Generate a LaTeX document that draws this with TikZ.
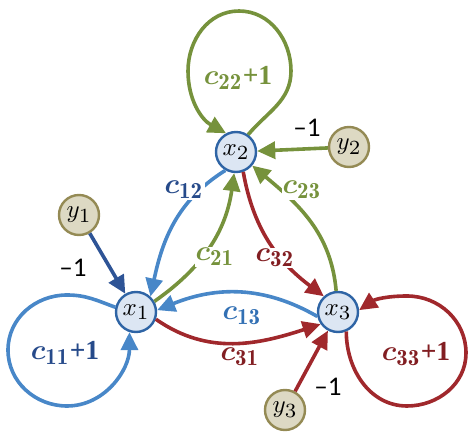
\documentclass[tikz,border=0pt]{standalone}
\usepackage{amsmath,bm}
\usepackage{fontspec}
\newfontfamily\calib{Carlito}
\newfontfamily\serifb{Liberation Serif}
\usetikzlibrary{arrows.meta}
\definecolor{lblue}{RGB}{72,135,200}
\definecolor{dblue}{RGB}{46,84,150}
\definecolor{tblue}{RGB}{38,74,138}
\definecolor{mblue}{RGB}{50,112,180}
\definecolor{lgreen}{RGB}{118,146,60}
\definecolor{lred}{RGB}{160,40,44}
\definecolor{tred}{RGB}{130,30,34}
\definecolor{xfill}{RGB}{220,230,243}
\definecolor{xborder}{RGB}{46,100,165}
\definecolor{yfill}{RGB}{221,217,195}
\definecolor{yborder}{RGB}{148,138,84}
\newcommand{\coefc}[1]{\scalebox{2.85}{$\bm{c}_{\scalebox{1.15}{$\scriptstyle\mathbf{#1}$}}$}}
\newcommand{\plusone}{\scalebox{2.75}{\serifb\bfseries +1}}
\newcommand{\varx}[2]{\scalebox{2.5}{$#1_{\scalebox{1.15}{$\scriptstyle #2$}}$}}
\tikzset{
  xnode/.style={circle, draw=xborder, fill=xfill, line width=2.4pt, minimum size=40pt, inner sep=0pt},
  ynode/.style={circle, draw=yborder, fill=yfill, line width=2.4pt, minimum size=40pt, inner sep=0pt},
  conn/.style={line width=3.6pt, -{Triangle[length=18pt,width=17pt]}},
  clab/.style={inner sep=1pt},
  gap/.style={fill=white},
  mone/.style={font=\calib\fontsize{27}{30}\selectfont, text=black},
}
\begin{document}
\begin{tikzpicture}[x=1pt,y=1pt]
\useasboundingbox (0,0) rectangle (474,439);
% nodes
\node[xnode] (x1) at (136,127) {\varx{x}{1}};
\node[xnode] (x2) at (236,287) {\varx{x}{2}};
\node[xnode] (x3) at (338,127) {\varx{x}{3}};
\node[ynode] (y1) at (79,224) {\varx{y}{1}};
\node[ynode] (y2) at (349,292) {\varx{y}{2}};
\node[ynode] (y3) at (285,29) {\varx{y}{3}};
% loop coordinates
\coordinate (c11t) at (67,144);
\coordinate (c11l) at (8,89);
\coordinate (c11b) at (67,33);
\coordinate (c22r) at (291,368);
\coordinate (c22t) at (239,428);
\coordinate (c22l) at (188,368);
\coordinate (c33b) at (407,33);
\coordinate (c33r) at (466,86);
\coordinate (c33t) at (407,143);
% self loops
\draw[conn,lblue] (x1.167) to[out=160,in=0] (c11t) to[out=180,in=90] (c11l)
  to[out=270,in=180] (c11b) to[out=0,in=270] (x1.252);
\draw[conn,lgreen] (x2.55) to[out=50,in=270] (c22r) to[out=90,in=0] (c22t)
  to[out=180,in=90] (c22l) to[out=270,in=151] (x2.118);
\draw[conn,lred] (x3.-67) to[out=-90,in=180] (c33b) to[out=0,in=270] (c33r)
  to[out=90,in=0] (c33t) to[out=180,in=34] (x3.5);
% inputs
\draw[conn,dblue] (y1) -- (x1);
\draw[conn,lgreen] (y2) -- (x2);
\draw[conn,lred] (y3) -- (x3);
% couplings
\draw[conn,lblue] (x2.240) to[out=212,in=78] (x1.47);
\draw[conn,lgreen] (x1.30) to[out=35,in=262] (x2.265);
\draw[conn,lred] (x2.290) to[out=280,in=143] (x3.132);
\draw[conn,lgreen] (x3.95) to[out=95,in=-40] (x2.-40);
\draw[conn,lblue] (x3.192) to[out=150,in=22] (x1.5);
\draw[conn,lred] (x1.-20) to[out=-35,in=198] (x3.215);
% labels
\node[clab,text=lgreen] (l22) at (238,361) {\coefc{22}\plusone};
\node[clab,text=tblue] (l11) at (65,86) {\coefc{11}\plusone};
\node[clab,text=tred] (l33) at (416,85) {\coefc{33}\plusone};
\node[clab,gap,text=tblue] (l12) at (184,249) {\coefc{12}};
\node[clab,gap,text=lgreen] (l21) at (215,182) {\coefc{21}};
\node[clab,gap,text=tred] (l32) at (275,181) {\coefc{32}};
\node[clab,gap,text=lgreen] (l23) at (302,249) {\coefc{23}};
\node[clab,text=mblue] (l13) at (242,123) {\coefc{13}};
\node[clab,text=tred] (l31) at (240,82) {\coefc{31}};
\node[mone] (m1) at (73,171) {–1};
\node[mone] (m2) at (307,311) {–1};
\node[mone] (m3) at (328,52) {–1};
\end{tikzpicture}
\end{document}
